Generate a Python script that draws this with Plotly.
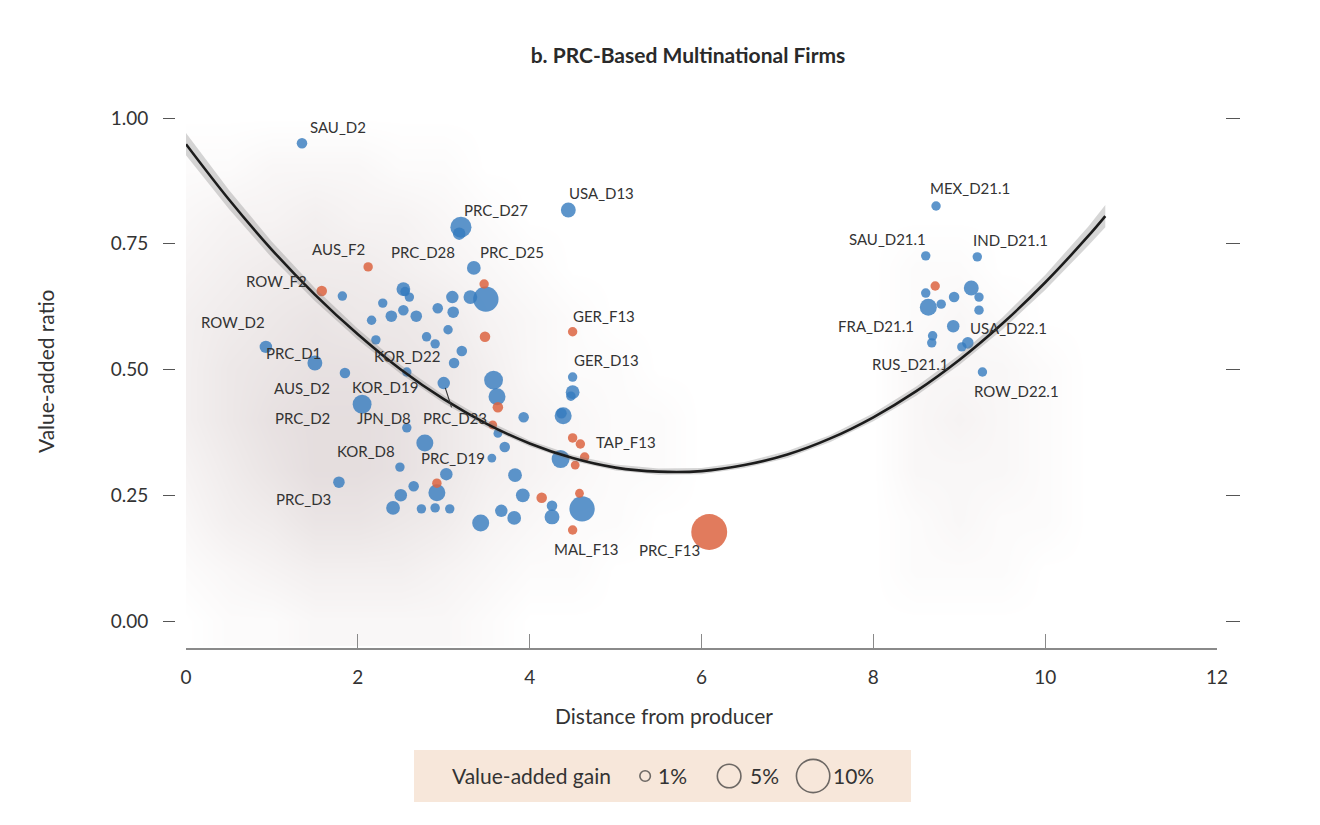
import plotly.graph_objects as go

# ---------------- data ----------------
# Highlighted firms (blue = domestic "D", orange = foreign "F"); gain in % (value-added gain)
blue_x = [1.35, 4.45, 3.20, 3.18, 3.35, 3.49, 3.31, 3.10, 3.11, 2.93, 2.68, 2.53, 2.39, 2.29, 2.16,
          2.21, 2.80, 2.90, 3.05, 2.53, 2.55, 2.60, 1.82, 0.93, 1.50, 1.85, 3.21, 3.12, 2.57, 3.00,
          2.05, 3.58, 3.62, 3.63, 3.93, 4.39, 4.37, 4.50, 4.50, 4.48, 4.36, 3.71, 3.56, 2.57, 2.78,
          2.49, 1.78, 3.03, 2.65, 2.50, 2.92, 2.41, 2.74, 2.90, 3.07, 3.43, 3.67, 3.82, 3.83, 3.92,
          4.26, 4.26, 4.61,
          8.73, 8.61, 9.21, 8.61, 9.14, 9.23, 8.94, 8.79, 8.64, 9.23, 8.93, 8.69, 8.68, 9.10, 9.03, 9.27]
blue_y = [0.950, 0.817, 0.783, 0.770, 0.702, 0.640, 0.644, 0.644, 0.614, 0.622, 0.606, 0.618, 0.606, 0.632, 0.598,
          0.559, 0.565, 0.551, 0.579, 0.660, 0.655, 0.644, 0.646, 0.545, 0.513, 0.493, 0.537, 0.513, 0.495, 0.473,
          0.431, 0.479, 0.446, 0.373, 0.405, 0.408, 0.413, 0.485, 0.455, 0.447, 0.322, 0.346, 0.324, 0.384, 0.354,
          0.306, 0.276, 0.292, 0.268, 0.250, 0.255, 0.225, 0.223, 0.225, 0.223, 0.195, 0.219, 0.205, 0.290, 0.250,
          0.229, 0.207, 0.223,
          0.825, 0.726, 0.724, 0.652, 0.662, 0.644, 0.644, 0.630, 0.624, 0.618, 0.586, 0.567, 0.553, 0.553, 0.545, 0.495]
blue_gain = [1.0, 2.0, 4.0, 1.4, 1.7, 5.8, 1.7, 1.4, 1.2, 1.0, 1.2, 1.0, 1.2, 0.8, 0.8,
             0.8, 0.8, 0.8, 0.8, 1.7, 0.8, 0.8, 0.8, 1.4, 2.0, 1.0, 1.0, 1.0, 0.8, 1.4,
             3.2, 3.2, 2.6, 0.7, 1.0, 2.6, 1.0, 0.8, 1.7, 0.8, 2.9, 1.0, 0.7, 0.8, 2.6,
             0.8, 1.2, 1.4, 1.0, 1.4, 2.6, 1.7, 0.8, 0.8, 0.8, 2.6, 1.4, 1.7, 1.7, 1.7,
             1.0, 2.0, 5.8,
             0.8, 0.8, 0.8, 0.8, 2.0, 0.8, 1.0, 0.8, 2.6, 0.8, 1.4, 0.8, 0.8, 1.2, 0.8, 0.8]

orange_x = [1.58, 2.12, 3.47, 3.48, 4.50, 3.63, 3.57, 4.50, 4.59, 4.64, 4.53, 2.92, 4.14, 4.58, 4.50, 6.09, 8.72]
orange_y = [0.656, 0.704, 0.670, 0.565, 0.575, 0.425, 0.390, 0.364, 0.352, 0.326, 0.310, 0.274, 0.245, 0.254,
            0.181, 0.177, 0.666]
orange_gain = [1.0, 0.8, 0.8, 1.0, 0.8, 1.0, 0.7, 0.8, 0.8, 0.8, 0.7, 0.8, 1.0, 0.7, 0.8, 11.6, 0.8]

# Point labels
label_text = ["SAU_D2", "USA_D13", "PRC_D27", "AUS_F2", "PRC_D28", "PRC_D25", "ROW_F2", "ROW_D2",
              "GER_F13", "PRC_D1", "KOR_D22", "GER_D13", "AUS_D2", "KOR_D19", "PRC_D2", "JPN_D8",
              "TAP_F13", "KOR_D8", "PRC_D19", "PRC_D3", "MAL_F13", "PRC_F13",
              "MEX_D21.1", "SAU_D21.1", "IND_D21.1", "FRA_D21.1", "USA_D22.1", "RUS_D21.1", "ROW_D22.1"]
label_x = [1.77, 4.84, 3.61, 1.78, 2.76, 3.79, 1.05, 0.55,
           4.86, 1.25, 2.57, 4.89, 1.35, 2.32, 1.36, 2.30,
           5.12, 2.09, 3.11, 1.37, 4.66, 5.63,
           9.12, 8.17, 9.60, 8.03, 9.57, 8.43, 9.67]
label_y = [0.982, 0.851, 0.817, 0.740, 0.734, 0.734, 0.676, 0.594,
           0.606, 0.533, 0.527, 0.519, 0.463, 0.465, 0.404, 0.404,
           0.356, 0.338, 0.324, 0.243, 0.143, 0.141,
           0.861, 0.759, 0.757, 0.586, 0.583, 0.511, 0.457]
# PRC_D23 label with leader line (label position, point position)
d23_label = ("PRC_D23", 3.13, 0.404)
d23_point = (3.00, 0.473)

# Fitted curve and half-width of its confidence band
fit_x = [0, 0.5, 1, 1.5, 2, 2.5, 3, 3.5, 4, 4.5, 5, 5.5, 6, 6.5, 7, 7.5, 8, 8.5, 9, 9.5, 10, 10.5, 10.7]
fit_y = [0.948, 0.838, 0.738, 0.649, 0.570, 0.500, 0.441, 0.392, 0.353, 0.324, 0.305, 0.297, 0.298,
         0.310, 0.331, 0.363, 0.405, 0.457, 0.519, 0.591, 0.673, 0.765, 0.805]
band_half = [0.022, 0.019, 0.016, 0.013, 0.011, 0.009, 0.008, 0.007, 0.006, 0.006, 0.006, 0.006, 0.006,
             0.006, 0.007, 0.007, 0.008, 0.009, 0.010, 0.012, 0.015, 0.019, 0.022]

# Density of the faint background cloud of all other firms (read by eye, 0-10)
haze_x = [0, 0.5, 1, 1.5, 2, 2.5, 3, 3.5, 4, 4.5, 5, 5.5, 6, 7, 8, 8.5, 9, 9.5, 10, 10.5, 11, 12]
haze_y = [0.0, 0.1, 0.2, 0.3, 0.4, 0.5, 0.6, 0.7, 0.8, 0.9, 1.0]
haze_z = [
    [0, 1, 1, 2, 2, 2, 2, 1, 0, 0, 0, 0, 0, 0, 0, 0, 0, 0, 0, 0, 0, 0],
    [1, 2, 3, 4, 4, 4, 3, 2, 1, 1, 0, 0, 0, 0, 0, 1, 1, 1, 0, 0, 0, 0],
    [2, 4, 5, 7, 7, 6, 5, 3, 2, 1, 1, 0, 0, 0, 0, 1, 2, 1, 1, 0, 0, 0],
    [3, 5, 7, 9, 9, 8, 6, 4, 3, 2, 1, 1, 0, 0, 0, 2, 2, 2, 1, 0, 0, 0],
    [4, 6, 8, 9, 9, 8, 6, 4, 3, 2, 1, 1, 0, 0, 0, 2, 3, 2, 1, 0, 0, 0],
    [4, 6, 7, 8, 8, 7, 6, 4, 2, 1, 1, 0, 0, 0, 0, 2, 2, 2, 1, 0, 0, 0],
    [4, 5, 6, 7, 6, 6, 5, 3, 2, 1, 0, 0, 0, 0, 0, 1, 2, 1, 0, 0, 0, 0],
    [3, 4, 5, 5, 5, 4, 3, 2, 1, 0, 0, 0, 0, 0, 0, 1, 1, 0, 0, 0, 0, 0],
    [2, 3, 3, 4, 3, 3, 2, 1, 0, 0, 0, 0, 0, 0, 0, 0, 0, 0, 0, 0, 0, 0],
    [1, 1, 2, 2, 2, 1, 1, 0, 0, 0, 0, 0, 0, 0, 0, 0, 0, 0, 0, 0, 0, 0],
    [0, 0, 0, 0, 0, 0, 0, 0, 0, 0, 0, 0, 0, 0, 0, 0, 0, 0, 0, 0, 0, 0],
]

x_ticks = [0, 2, 4, 6, 8, 10, 12]
y_ticks = [0, 0.25, 0.5, 0.75, 1.0]
legend_gain = [1, 5, 10]
legend_labels = ["1%", "5%", "10%"]

# ---------------- figure ----------------
FONT = "Lato, 'Open Sans', sans-serif"
TXT = "#333333"
BLUE = "rgb(52,122,190)"
ORANGE = "rgb(220,100,65)"
SIZEREF = 0.018   # diameter ~ 10.5 px * sqrt(gain %)

fig = go.Figure()

fig.add_trace(go.Heatmap(x=haze_x, y=haze_y, z=haze_z, zmin=0, zmax=10, zsmooth="best",
                         colorscale=[[0, "#ffffff"], [0.3, "#f6f3f3"], [0.6, "#ede8e8"], [1, "#e2dadb"]],
                         showscale=False, hoverinfo="skip"))

fig.add_trace(go.Scatter(x=blue_x, y=blue_y, mode="markers", cliponaxis=False,
                         marker=dict(size=blue_gain, sizemode="area", sizeref=SIZEREF,
                                     color=BLUE, opacity=0.8, line=dict(width=0)),
                         hoverinfo="skip", showlegend=False))
fig.add_trace(go.Scatter(x=orange_x, y=orange_y, mode="markers", cliponaxis=False,
                         marker=dict(size=orange_gain, sizemode="area", sizeref=SIZEREF,
                                     color=ORANGE, opacity=0.85, line=dict(width=0)),
                         hoverinfo="skip", showlegend=False))

upper = [y + h for y, h in zip(fit_y, band_half)]
lower = [y - h for y, h in zip(fit_y, band_half)]
fig.add_trace(go.Scatter(x=fit_x + fit_x[::-1], y=upper + lower[::-1], fill="toself",
                         fillcolor="rgba(120,120,120,0.30)", line=dict(width=0), mode="lines",
                         hoverinfo="skip", showlegend=False))
fig.add_trace(go.Scatter(x=fit_x, y=fit_y, mode="lines",
                         line=dict(color="#1c1c1c", width=2.6, shape="spline", smoothing=1.0),
                         hoverinfo="skip", showlegend=False))

# invisible trace carrying the right-hand tick axis
fig.add_trace(go.Scatter(x=[0], y=[0], yaxis="y2", mode="markers", marker=dict(opacity=0),
                         hoverinfo="skip", showlegend=False))

# size legend circles
leg_pos = [0.465, 0.634, 0.803]
fig.add_trace(go.Scatter(x=leg_pos, y=[0.5] * 3, xaxis="x3", yaxis="y3", mode="markers",
                         cliponaxis=False,
                         marker=dict(size=legend_gain, sizemode="area", sizeref=SIZEREF,
                                     color="rgba(0,0,0,0)", line=dict(color="#333333", width=1.6)),
                         hoverinfo="skip", showlegend=False))

annotations = []
for t, x, y in zip(label_text, label_x, label_y):
    annotations.append(dict(x=x, y=y, xref="x", yref="y", text=t, showarrow=False,
                            xanchor="center", yanchor="middle",
                            font=dict(family=FONT, size=15, color=TXT)))
annotations.append(dict(x=d23_point[0], y=d23_point[1], xref="x", yref="y",
                        ax=d23_label[1], ay=d23_label[2], axref="x", ayref="y",
                        text=d23_label[0], showarrow=True, arrowhead=0, arrowwidth=1.1,
                        arrowcolor="#333333", standoff=5,
                        font=dict(family=FONT, size=15, color=TXT)))
# axis titles
annotations.append(dict(x=0.4667, y=0.1379, xref="paper", yref="paper", text="Distance from producer",
                        showarrow=False, xanchor="center", yanchor="middle",
                        font=dict(family=FONT, size=21, color=TXT)))
annotations.append(dict(x=-0.1065, y=0.6124, xref="paper", yref="paper", text="Value-added ratio",
                        textangle=-90, showarrow=False, xanchor="center", yanchor="middle",
                        font=dict(family=FONT, size=21, color=TXT)))
# legend texts
annotations.append(dict(x=0.2354, y=0.5, xref="x3 domain", yref="y3 domain", text="Value-added gain",
                        showarrow=False, xanchor="center", yanchor="middle",
                        font=dict(family=FONT, size=21, color=TXT)))
for lx, lt in zip([0.487, 0.672, 0.839], legend_labels):
    annotations.append(dict(x=lx, y=0.5, xref="x3 domain", yref="y3 domain", text=lt,
                            showarrow=False, xanchor="left", yanchor="middle",
                            font=dict(family=FONT, size=21, color=TXT)))

fig.update_layout(
    width=1320, height=825,
    margin=dict(l=160, r=80, t=90, b=10),
    paper_bgcolor="white", plot_bgcolor="white",
    font=dict(family=FONT, color=TXT),
    showlegend=False,
    title=dict(text="b. PRC-Based Multinational Firms", x=0.4889, xref="paper", xanchor="center",
               y=0.932, yref="container", yanchor="middle",
               font=dict(family=FONT, size=21, color="#2a2a2a", weight=700)),
    xaxis=dict(domain=[0.02407, 0.97870], range=[0, 12], tickvals=x_ticks, ticks="inside", ticklen=14,
               tickcolor="#8a8a8a", tickwidth=1, showline=True, linecolor="#8a8a8a", linewidth=1.5,
               showgrid=False, zeroline=False, tickfont=dict(family=FONT, size=19, color=TXT),
               ticklabelstandoff=11, anchor="y"),
    yaxis=dict(domain=[0.2303, 1.0], range=[-0.0537, 1.0557], tickvals=y_ticks, tickformat=".2f",
               ticks="outside", ticklen=12, tickcolor="#555555", tickwidth=1, showline=False,
               showgrid=False, zeroline=False, anchor="free", position=0.01389,
               tickfont=dict(family=FONT, size=19, color=TXT), ticklabelstandoff=11),
    yaxis2=dict(overlaying="y", matches="y", side="right", anchor="free", position=0.98611,
                tickvals=y_ticks, ticks="outside", ticklen=14, tickcolor="#555555", tickwidth=1,
                showticklabels=False, showline=False, showgrid=False, zeroline=False),
    xaxis3=dict(domain=[0.2352, 0.6954], range=[0, 1], visible=False, anchor="y3"),
    yaxis3=dict(domain=[0.0179, 0.0897], range=[0, 1], visible=False, anchor="x3"),
    shapes=[dict(type="rect", xref="x3 domain", yref="y3 domain", x0=0, x1=1, y0=0, y1=1,
                 fillcolor="#f7e7da", line=dict(width=0), layer="below")],
    annotations=annotations,
)

fig.write_html("out.html")
